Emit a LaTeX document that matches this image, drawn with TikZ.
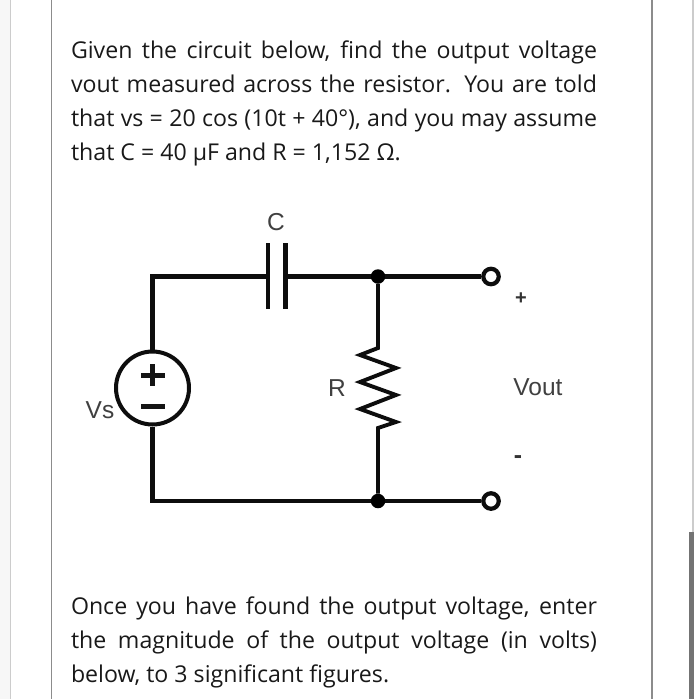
\documentclass[tikz,border=0pt]{standalone}
\usepackage{fontspec}
\setmainfont{Open Sans}
\newfontfamily\labelfont{Liberation Sans}
\tikzset{
  wire/.style={line width=4.3pt,draw=black!95,line join=miter},
  para/.style={anchor=base west,inner sep=0pt,outer sep=0pt,text=black!90,font=\fontsize{23.15}{24}\selectfont},
  lbl/.style={inner sep=0pt,outer sep=0pt,text=black!75,font=\labelfont\fontsize{24.5}{24.5}\selectfont},
  smallplus/.style={lbl,text=black!80,font=\labelfont\bfseries\fontsize{20}{20}\selectfont},
  smallminus/.style={anchor=base,inner sep=0pt,outer sep=0pt,text=black!80,font=\bfseries\fontsize{24}{24}\selectfont},
  dotn/.style={circle,fill=black,draw=none,minimum size=14.5pt,inner sep=0pt},
  opn/.style={circle,fill=white,draw=black!95,line width=4.2pt,minimum size=15.5pt,inner sep=0pt},
  src/.style={circle,fill=white,draw=black!95,line width=4pt,minimum size=73pt,inner sep=0pt},
  sign/.style={line width=5pt,draw=black!92},
  frame/.style={line width=1.6pt,draw=black!45},
  lightframe/.style={line width=1.6pt,draw=black!20}
}
\newcommand{\jline}[1]{\makebox[526pt][s]{#1}}
\begin{document}
\begin{tikzpicture}[x=1pt,y=-1pt]
\useasboundingbox (0,0) rectangle (700,699);
\fill[black!3] (0,0) rectangle (10,699);
\draw[lightframe] (10.5,0) -- (10.5,699);
\draw[frame] (51.5,0) -- (51.5,699);
\draw[frame] (652,0) -- (652,699);
\draw[lightframe] (693,0) -- (693,532);
\fill[black!55] (689,532) rectangle (694,699);

\node[para] (t1) at (71,58) {\jline{Given the circuit below, find the output voltage}};
\node[para] (t2) at (71,92) {\jline{vout measured across the resistor. You are told}};
\node[para] (t3) at (71,126) {\jline{that vs = 20 cos (10t + 40°), and you may assume}};
\node[para] (t4) at (71,160) {that C = 40 µF and R = 1,152 Ω.};
\node[para] (t5) at (71,614) {\jline{Once you have found the output voltage, enter}};
\node[para] (t6) at (71,648) {\jline{the magnitude of the output voltage (in volts)}};
\node[para] (t7) at (71,682) {below, to 3 significant figures.};

\coordinate (tl) at (152.5,276.5);
\coordinate (bl) at (152.5,501);
\coordinate (cl) at (268,276.5);
\coordinate (cr) at (285.5,276.5);
\coordinate (cl1) at (268,243);
\coordinate (cl2) at (268,309);
\coordinate (cr1) at (285.5,243);
\coordinate (cr2) at (285.5,309);
\node[dotn] (jt) at (378,276.5) {};
\node[dotn] (jb) at (378,501) {};
\node[opn] (ot) at (491,276.5) {};
\node[opn] (ob) at (491,501) {};
\node[src] (vs) at (152.5,388) {};
\coordinate (rt) at (378,348);
\coordinate (rb) at (378,428);
\coordinate (pa) at (141,375);
\coordinate (pb) at (164.5,375);
\coordinate (pc) at (152.5,364);
\coordinate (pd) at (152.5,386);
\coordinate (ma) at (141,406.5);
\coordinate (mb) at (164.5,406.5);

\draw[wire] (vs.north) -- (tl) -- (cl);
\draw[wire] (vs.south) -- (bl) -- (jb);
\draw[wire] (cl1) -- (cl2);
\draw[wire] (cr1) -- (cr2);
\draw[wire] (cr) -- (jt);
\draw[wire] (jt) -- (ot);
\draw[wire] (jb) -- (ob);
\draw[wire,line width=3.9pt] (jt) -- (rt) -- (360,355) -- (396,368) -- (360,382) -- (396,395) -- (360,409) -- (396,422) -- (rb) -- (jb);
\draw[sign] (pa) -- (pb);
\draw[sign] (pc) -- (pd);
\draw[sign] (ma) -- (mb);

\node[lbl] (lc) at (276,222) {C};
\node[lbl] (lr) at (337,388) {R};
\node[lbl] (lvs) at (100,410) {Vs};
\node[lbl] (lvo) at (538,387) {Vout};
\node[smallplus] (lp) at (521,298.5) {+};
\node[smallminus] (lm) at (518,463) {-};
\end{tikzpicture}
\end{document}
